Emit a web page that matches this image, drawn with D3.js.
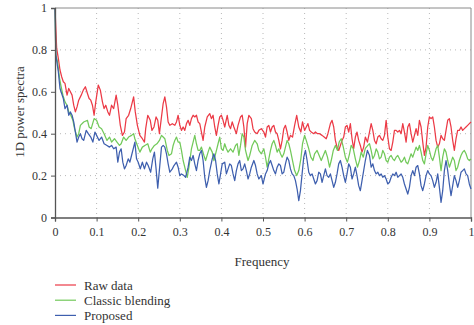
<!DOCTYPE html>
<html><head><meta charset="utf-8">
<script src="https://cdn.jsdelivr.net/npm/d3@7"></script>
<style>body{margin:0;background:#fff}svg{display:block}</style>
</head><body><svg id="c" width="474" height="325"></svg>
<script>
const xTicks=[0,0.1,0.2,0.3,0.4,0.5,0.6,0.7,0.8,0.9,1];
const yTicks=[0,0.2,0.4,0.6,0.8,1];
const seriesNames=["Raw data","Classic blending","Proposed"];
const seriesColors=["#ec3a46","#72c95a","#3e5fae"];
const rawData=[[0,1],[0.004,0.808],[0.008,0.76],[0.012,0.704],[0.016,0.672],[0.02,0.648],[0.024,0.64],[0.029,0.584],[0.033,0.616],[0.037,0.6],[0.041,0.584],[0.045,0.536],[0.049,0.504],[0.053,0.528],[0.057,0.56],[0.063,0.584],[0.068,0.608],[0.073,0.624],[0.078,0.592],[0.082,0.568],[0.086,0.56],[0.09,0.536],[0.094,0.488],[0.098,0.552],[0.104,0.632],[0.109,0.608],[0.114,0.552],[0.118,0.52],[0.122,0.536],[0.127,0.504],[0.131,0.488],[0.136,0.536],[0.141,0.52],[0.147,0.584],[0.151,0.536],[0.157,0.44],[0.162,0.392],[0.167,0.408],[0.171,0.472],[0.177,0.488],[0.182,0.52],[0.189,0.576],[0.193,0.504],[0.198,0.44],[0.204,0.392],[0.21,0.376],[0.215,0.36],[0.218,0.424],[0.223,0.488],[0.229,0.464],[0.233,0.416],[0.238,0.432],[0.243,0.48],[0.247,0.464],[0.251,0.4],[0.256,0.48],[0.26,0.544],[0.264,0.576],[0.268,0.528],[0.272,0.456],[0.276,0.44],[0.282,0.448],[0.288,0.44],[0.292,0.456],[0.296,0.488],[0.3,0.44],[0.304,0.416],[0.308,0.432],[0.312,0.416],[0.316,0.448],[0.32,0.464],[0.324,0.44],[0.328,0.472],[0.332,0.488],[0.336,0.48],[0.34,0.488],[0.344,0.456],[0.348,0.448],[0.352,0.408],[0.356,0.368],[0.36,0.432],[0.366,0.48],[0.372,0.496],[0.376,0.472],[0.38,0.488],[0.384,0.432],[0.388,0.392],[0.392,0.44],[0.396,0.48],[0.4,0.488],[0.404,0.464],[0.408,0.432],[0.414,0.488],[0.418,0.44],[0.422,0.424],[0.426,0.456],[0.43,0.432],[0.436,0.4],[0.44,0.44],[0.446,0.48],[0.45,0.488],[0.454,0.432],[0.458,0.336],[0.462,0.448],[0.466,0.488],[0.472,0.472],[0.476,0.424],[0.48,0.408],[0.486,0.4],[0.49,0.416],[0.496,0.424],[0.502,0.408],[0.506,0.384],[0.51,0.432],[0.514,0.44],[0.518,0.408],[0.522,0.432],[0.526,0.44],[0.53,0.408],[0.534,0.4],[0.538,0.368],[0.542,0.328],[0.546,0.368],[0.55,0.424],[0.554,0.44],[0.558,0.408],[0.562,0.368],[0.566,0.392],[0.571,0.384],[0.576,0.44],[0.581,0.488],[0.586,0.432],[0.591,0.408],[0.595,0.456],[0.6,0.416],[0.604,0.432],[0.608,0.448],[0.612,0.416],[0.616,0.408],[0.622,0.4],[0.626,0.408],[0.631,0.4],[0.636,0.4],[0.642,0.392],[0.647,0.384],[0.652,0.376],[0.656,0.4],[0.662,0.448],[0.666,0.464],[0.67,0.432],[0.674,0.368],[0.678,0.336],[0.682,0.32],[0.686,0.344],[0.69,0.368],[0.694,0.384],[0.698,0.432],[0.702,0.44],[0.706,0.408],[0.71,0.448],[0.714,0.376],[0.718,0.328],[0.722,0.384],[0.726,0.408],[0.73,0.368],[0.734,0.344],[0.738,0.312],[0.742,0.336],[0.746,0.384],[0.751,0.36],[0.756,0.408],[0.76,0.448],[0.764,0.416],[0.768,0.368],[0.772,0.352],[0.776,0.384],[0.78,0.392],[0.784,0.376],[0.788,0.368],[0.792,0.392],[0.796,0.464],[0.8,0.384],[0.804,0.328],[0.808,0.32],[0.812,0.36],[0.816,0.416],[0.82,0.416],[0.824,0.408],[0.828,0.416],[0.832,0.4],[0.836,0.448],[0.84,0.408],[0.844,0.36],[0.848,0.432],[0.852,0.448],[0.856,0.4],[0.86,0.36],[0.864,0.392],[0.868,0.424],[0.872,0.392],[0.876,0.464],[0.88,0.432],[0.884,0.36],[0.888,0.296],[0.892,0.336],[0.896,0.432],[0.9,0.48],[0.904,0.472],[0.908,0.48],[0.912,0.432],[0.916,0.368],[0.92,0.336],[0.924,0.352],[0.928,0.392],[0.932,0.376],[0.936,0.368],[0.94,0.416],[0.944,0.464],[0.948,0.472],[0.952,0.432],[0.956,0.368],[0.96,0.32],[0.964,0.376],[0.968,0.416],[0.972,0.416],[0.976,0.432],[0.98,0.416],[0.984,0.424],[0.988,0.432],[0.992,0.44],[0.996,0.448],[1,0.456]];
const classicData=[[0,1],[0.002,0.776],[0.006,0.744],[0.011,0.664],[0.014,0.632],[0.019,0.584],[0.024,0.552],[0.029,0.536],[0.033,0.504],[0.038,0.488],[0.043,0.464],[0.047,0.424],[0.053,0.384],[0.057,0.4],[0.061,0.44],[0.069,0.456],[0.078,0.464],[0.082,0.432],[0.087,0.424],[0.094,0.472],[0.1,0.464],[0.106,0.432],[0.112,0.424],[0.118,0.4],[0.125,0.368],[0.131,0.384],[0.136,0.36],[0.143,0.376],[0.149,0.36],[0.155,0.344],[0.159,0.352],[0.165,0.384],[0.171,0.368],[0.177,0.384],[0.184,0.392],[0.189,0.4],[0.192,0.376],[0.198,0.344],[0.204,0.312],[0.21,0.336],[0.216,0.344],[0.223,0.352],[0.229,0.312],[0.233,0.328],[0.239,0.344],[0.245,0.352],[0.251,0.368],[0.256,0.392],[0.26,0.384],[0.264,0.376],[0.27,0.32],[0.274,0.296],[0.28,0.304],[0.284,0.344],[0.288,0.368],[0.292,0.384],[0.296,0.36],[0.3,0.36],[0.304,0.32],[0.308,0.272],[0.314,0.224],[0.318,0.192],[0.322,0.24],[0.328,0.328],[0.332,0.36],[0.336,0.392],[0.34,0.352],[0.344,0.32],[0.348,0.32],[0.352,0.336],[0.358,0.296],[0.362,0.272],[0.368,0.312],[0.372,0.336],[0.378,0.312],[0.382,0.272],[0.386,0.304],[0.392,0.352],[0.396,0.384],[0.4,0.328],[0.404,0.32],[0.408,0.352],[0.412,0.328],[0.416,0.312],[0.422,0.328],[0.428,0.312],[0.434,0.344],[0.438,0.352],[0.442,0.296],[0.446,0.344],[0.45,0.4],[0.454,0.384],[0.458,0.32],[0.464,0.272],[0.468,0.296],[0.474,0.344],[0.48,0.368],[0.486,0.352],[0.49,0.32],[0.496,0.304],[0.502,0.328],[0.506,0.288],[0.51,0.24],[0.514,0.28],[0.518,0.32],[0.522,0.352],[0.526,0.368],[0.53,0.344],[0.534,0.312],[0.538,0.328],[0.542,0.304],[0.546,0.288],[0.55,0.304],[0.554,0.336],[0.558,0.368],[0.562,0.352],[0.566,0.32],[0.571,0.272],[0.576,0.224],[0.581,0.2],[0.586,0.224],[0.591,0.28],[0.595,0.352],[0.6,0.392],[0.604,0.368],[0.61,0.328],[0.615,0.288],[0.62,0.272],[0.624,0.304],[0.63,0.32],[0.635,0.296],[0.64,0.272],[0.645,0.296],[0.65,0.32],[0.655,0.288],[0.66,0.24],[0.664,0.272],[0.669,0.32],[0.674,0.344],[0.679,0.32],[0.683,0.36],[0.688,0.376],[0.693,0.336],[0.698,0.288],[0.703,0.264],[0.708,0.304],[0.712,0.344],[0.717,0.328],[0.722,0.28],[0.727,0.24],[0.732,0.272],[0.736,0.312],[0.741,0.288],[0.746,0.33],[0.752,0.344],[0.756,0.352],[0.76,0.32],[0.764,0.28],[0.768,0.296],[0.772,0.328],[0.776,0.312],[0.78,0.28],[0.784,0.288],[0.788,0.32],[0.792,0.304],[0.796,0.272],[0.8,0.264],[0.804,0.288],[0.808,0.296],[0.812,0.28],[0.816,0.272],[0.82,0.288],[0.824,0.296],[0.828,0.28],[0.832,0.264],[0.836,0.272],[0.84,0.288],[0.844,0.264],[0.848,0.256],[0.852,0.28],[0.856,0.304],[0.86,0.288],[0.864,0.312],[0.868,0.336],[0.872,0.32],[0.876,0.344],[0.88,0.312],[0.884,0.272],[0.888,0.256],[0.892,0.304],[0.896,0.344],[0.9,0.32],[0.904,0.288],[0.908,0.272],[0.912,0.296],[0.916,0.328],[0.92,0.344],[0.924,0.288],[0.928,0.224],[0.932,0.288],[0.936,0.328],[0.94,0.312],[0.944,0.272],[0.948,0.24],[0.952,0.264],[0.956,0.288],[0.96,0.272],[0.964,0.224],[0.968,0.24],[0.972,0.272],[0.976,0.296],[0.98,0.312],[0.984,0.32],[0.988,0.304],[0.992,0.28],[0.996,0.272],[1,0.28]];
const proposedData=[[0,1],[0.002,0.776],[0.008,0.696],[0.012,0.616],[0.016,0.592],[0.02,0.568],[0.024,0.52],[0.029,0.536],[0.033,0.488],[0.037,0.504],[0.041,0.488],[0.045,0.456],[0.049,0.408],[0.053,0.36],[0.057,0.384],[0.061,0.4],[0.065,0.376],[0.069,0.368],[0.075,0.416],[0.08,0.4],[0.086,0.384],[0.091,0.36],[0.096,0.408],[0.1,0.392],[0.106,0.368],[0.112,0.384],[0.118,0.352],[0.125,0.344],[0.131,0.336],[0.136,0.344],[0.141,0.328],[0.147,0.336],[0.151,0.264],[0.155,0.312],[0.159,0.328],[0.163,0.264],[0.167,0.232],[0.171,0.248],[0.176,0.28],[0.18,0.264],[0.184,0.296],[0.188,0.328],[0.192,0.36],[0.196,0.28],[0.2,0.264],[0.205,0.232],[0.21,0.264],[0.215,0.232],[0.22,0.264],[0.224,0.248],[0.23,0.216],[0.235,0.28],[0.239,0.312],[0.243,0.232],[0.247,0.14],[0.252,0.25],[0.256,0.336],[0.26,0.344],[0.264,0.336],[0.268,0.304],[0.272,0.256],[0.276,0.216],[0.282,0.232],[0.286,0.248],[0.292,0.264],[0.296,0.24],[0.3,0.2],[0.304,0.208],[0.31,0.2],[0.314,0.192],[0.32,0.24],[0.324,0.288],[0.328,0.272],[0.332,0.296],[0.336,0.256],[0.34,0.224],[0.344,0.272],[0.348,0.304],[0.352,0.32],[0.356,0.272],[0.36,0.192],[0.364,0.144],[0.368,0.176],[0.372,0.224],[0.378,0.28],[0.382,0.304],[0.386,0.272],[0.39,0.208],[0.394,0.16],[0.398,0.208],[0.402,0.256],[0.408,0.264],[0.412,0.208],[0.416,0.232],[0.42,0.256],[0.424,0.248],[0.428,0.208],[0.432,0.176],[0.436,0.224],[0.44,0.256],[0.444,0.272],[0.448,0.224],[0.452,0.232],[0.456,0.256],[0.46,0.224],[0.464,0.184],[0.468,0.208],[0.472,0.24],[0.478,0.272],[0.482,0.248],[0.486,0.208],[0.49,0.184],[0.496,0.2],[0.5,0.16],[0.502,0.176],[0.506,0.208],[0.51,0.224],[0.514,0.256],[0.518,0.272],[0.522,0.248],[0.526,0.224],[0.53,0.208],[0.534,0.24],[0.538,0.256],[0.542,0.248],[0.546,0.208],[0.55,0.216],[0.554,0.256],[0.558,0.288],[0.562,0.272],[0.566,0.232],[0.57,0.208],[0.574,0.2],[0.578,0.176],[0.582,0.136],[0.586,0.08],[0.59,0.128],[0.594,0.208],[0.598,0.288],[0.602,0.32],[0.606,0.272],[0.61,0.216],[0.614,0.2],[0.618,0.208],[0.622,0.184],[0.626,0.16],[0.63,0.176],[0.634,0.216],[0.638,0.208],[0.642,0.168],[0.646,0.2],[0.65,0.232],[0.654,0.2],[0.658,0.192],[0.662,0.208],[0.666,0.176],[0.67,0.144],[0.674,0.168],[0.678,0.208],[0.682,0.256],[0.686,0.272],[0.69,0.24],[0.694,0.2],[0.698,0.168],[0.702,0.208],[0.706,0.256],[0.71,0.24],[0.714,0.184],[0.718,0.208],[0.722,0.24],[0.726,0.2],[0.73,0.152],[0.734,0.128],[0.738,0.176],[0.742,0.224],[0.746,0.272],[0.751,0.32],[0.756,0.296],[0.76,0.24],[0.764,0.256],[0.768,0.224],[0.772,0.208],[0.776,0.216],[0.78,0.2],[0.784,0.208],[0.788,0.192],[0.792,0.2],[0.796,0.184],[0.8,0.16],[0.804,0.168],[0.808,0.192],[0.812,0.208],[0.816,0.2],[0.82,0.216],[0.824,0.192],[0.828,0.2],[0.832,0.208],[0.836,0.192],[0.84,0.16],[0.844,0.136],[0.848,0.112],[0.852,0.144],[0.856,0.2],[0.86,0.224],[0.864,0.2],[0.868,0.24],[0.872,0.248],[0.876,0.208],[0.88,0.152],[0.884,0.128],[0.888,0.16],[0.892,0.2],[0.896,0.224],[0.9,0.208],[0.904,0.2],[0.908,0.176],[0.912,0.144],[0.916,0.168],[0.92,0.208],[0.924,0.144],[0.928,0.072],[0.932,0.128],[0.936,0.224],[0.94,0.272],[0.944,0.224],[0.948,0.16],[0.952,0.104],[0.956,0.152],[0.96,0.2],[0.964,0.176],[0.968,0.144],[0.972,0.176],[0.976,0.216],[0.98,0.224],[0.984,0.232],[0.988,0.208],[0.992,0.2],[0.996,0.16],[1,0.136]];

const svg=d3.select("#c");
const L=55,R=471,T=8,B=217.5;
const x=d3.scaleLinear().domain([0,1]).range([L,R]);
const y=d3.scaleLinear().domain([0,1]).range([B,T]);
const fmt=d=>d===0?"0":d===1?"1":String(d);
const FONT="Liberation Serif";

const g=svg.append("g");
g.selectAll(".vg").data(xTicks.filter(d=>d>0&&d<1)).enter().append("line")
 .attr("x1",d=>x(d)).attr("x2",d=>x(d)).attr("y1",T).attr("y2",B)
 .attr("stroke","#b8b8b8").attr("stroke-width",1).attr("stroke-dasharray","1,4");
g.selectAll(".hg").data(yTicks.filter(d=>d>0&&d<1)).enter().append("line")
 .attr("x1",L).attr("x2",R).attr("y1",d=>y(d)).attr("y2",d=>y(d))
 .attr("stroke","#b8b8b8").attr("stroke-width",1).attr("stroke-dasharray","1,4");

svg.append("path").attr("d",`M${L},${T}H${R}V${B}`).attr("fill","none").attr("stroke","#8a8a8a").attr("stroke-width",1);

const line=d3.line().x(d=>x(d[0])).y(d=>y(d[1]));
[rawData,classicData,proposedData].forEach((s,i)=>{
  svg.append("path").datum(s).attr("d",line).attr("fill","none")
   .attr("stroke",seriesColors[i]).attr("stroke-width",1.25).attr("stroke-linejoin","round");
});

const xa=svg.append("g").attr("transform",`translate(0,${B})`)
 .call(d3.axisBottom(x).tickValues(xTicks).tickFormat(fmt).tickSize(4).tickPadding(6));
const ya=svg.append("g").attr("transform",`translate(${L},0)`)
 .call(d3.axisLeft(y).tickValues(yTicks).tickFormat(fmt).tickSize(4).tickPadding(4));
[xa,ya].forEach(a=>{
  a.attr("font-family",FONT).attr("font-size",12);
  a.select(".domain").attr("stroke","#555").attr("stroke-width",1.3);
  a.selectAll(".tick line").attr("stroke","#555");
  a.selectAll(".tick text").attr("fill","#333");
});

svg.append("text").attr("x",262).attr("y",266).attr("text-anchor","middle").attr("font-family",FONT).attr("font-size",13).attr("fill","#333").text("Frequency");
svg.append("text").attr("transform","translate(24,112) rotate(-90)").attr("text-anchor","middle").attr("font-family",FONT).attr("font-size",13).attr("fill","#333").text("1D power spectra");

seriesNames.forEach((n,i)=>{
  const ly=285+i*15.2;
  svg.append("line").attr("x1",55).attr("x2",76).attr("y1",ly).attr("y2",ly).attr("stroke",seriesColors[i]).attr("stroke-width",1.2);
  svg.append("text").attr("x",84).attr("y",ly+4.5).attr("font-family",FONT).attr("font-size",13).attr("fill","#333").text(n);
});
</script></body></html>
